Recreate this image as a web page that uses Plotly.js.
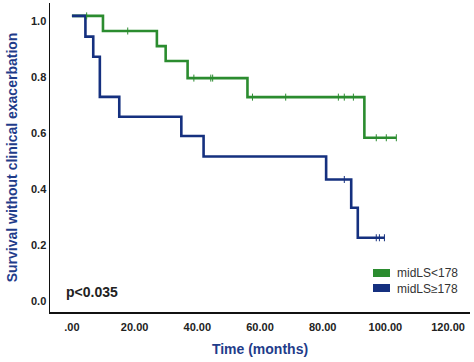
<!DOCTYPE html>
<html>
<head>
<meta charset="utf-8">
<script src="https://cdn.plot.ly/plotly-3.0.1.min.js"></script>
<style>
  html, body { margin: 0; padding: 0; background: #fff; }
  #chart { width: 474px; height: 362px; }
</style>
</head>
<body>
<div id="chart"></div>
<script>
// Kaplan-Meier estimates: time of each step (months) and survival after it
const groupNames = ['midLS<178', 'midLS\u2265178'];

const lowTimes = [0, 9.9, 27.1, 29.9, 36.9, 56.0, 93.3, 103.5];
const lowSurv  = [1.0, 0.946, 0.892, 0.839, 0.778, 0.710, 0.565, 0.565];
const lowCensorTimes = [4.7, 17.8, 38.9, 44.3, 44.9, 57.6, 68.2, 85.0, 86.9, 89.8, 97.1, 100.3, 103.5];
const lowCensorSurv  = [1.0, 0.946, 0.778, 0.778, 0.778, 0.710, 0.710, 0.710, 0.710, 0.710, 0.565, 0.565, 0.565];

const highTimes = [0, 4.3, 6.8, 8.9, 15.1, 34.9, 42.0, 81.1, 89.1, 91.2, 99.7];
const highSurv  = [1.0, 0.926, 0.854, 0.711, 0.640, 0.571, 0.498, 0.416, 0.315, 0.208, 0.208];
const highCensorTimes = [86.9, 97.1, 98.1, 99.7];
const highCensorSurv  = [0.416, 0.208, 0.208, 0.208];

const xTickVals = [0, 20, 40, 60, 80, 100, 120];
const xTickText = ['.00', '20.00', '40.00', '60.00', '80.00', '100.00', '120.00'];
const yTickVals = [0, 0.2, 0.4, 0.6, 0.8, 1.0];

const colors = ['#2b8c2f', '#15307f'];
const titleBlue = '#1f3c8a';

function curve(t, s, color) {
  return { x: t, y: s, mode: 'lines', line: { shape: 'hv', color: color, width: 2.6 },
           showlegend: false, hoverinfo: 'skip' };
}
function censors(t, s, color) {
  return { x: t, y: s, mode: 'markers', showlegend: false, hoverinfo: 'skip',
           marker: { symbol: 'line-ns-open', size: 5, color: color, line: { color: color, width: 1 } } };
}

const data = [
  curve(lowTimes, lowSurv, colors[0]),
  curve(highTimes, highSurv, colors[1]),
  censors(lowCensorTimes, lowCensorSurv, colors[0]),
  censors(highCensorTimes, highCensorSurv, colors[1])
];

const tickFont = { family: 'Liberation Sans, Arial, sans-serif', size: 11, color: '#222' };

// legend swatches drawn as filled rectangles with their labels
const shapes = [], annotations = [];
groupNames.forEach((name, i) => {
  shapes.push({ type: 'rect', xref: 'paper', yref: 'paper',
    x0: (373 - 50) / 420, x1: (390 - 50) / 420,
    y0: (312 - 277 - i * 15) / 309, y1: (312 - 269 - i * 15) / 309,
    fillcolor: colors[i], line: { width: 0 } });
  annotations.push({ xref: 'paper', yref: 'paper', x: (395 - 50) / 420, y: (312 - 273 - i * 15.5) / 309,
    xanchor: 'left', yanchor: 'middle', showarrow: false, text: name,
    font: { family: 'Liberation Sans, Arial, sans-serif', size: 12, color: '#333' } });
});
annotations.push({ xref: 'paper', yref: 'paper', x: (64 - 50) / 420, y: (312 - 292) / 309,
  xanchor: 'left', yanchor: 'middle', showarrow: false, text: '<b>p&lt;0.035</b>',
  font: { family: 'Liberation Sans, Arial, sans-serif', size: 14, color: '#222' } });

const layout = {
  width: 474, height: 362,
  margin: { l: 50, r: 4, t: 3, b: 50 },
  paper_bgcolor: '#fff', plot_bgcolor: '#fff',
  showlegend: false,
  xaxis: {
    range: [-7, 127], tickvals: xTickVals, ticktext: xTickText,
    showgrid: false, zeroline: false, showline: true, linecolor: '#111', linewidth: 1.5,
    ticks: '', ticklabelstandoff: 4, tickfont: Object.assign({ weight: 'bold' }, tickFont),
    title: { text: '<b>Time (months)</b>', standoff: 12,
             font: { family: 'Liberation Sans, Arial, sans-serif', size: 14, color: titleBlue } }
  },
  yaxis: {
    range: [-0.057, 1.046], tickvals: yTickVals, tickformat: '.1f',
    showgrid: false, zeroline: false, showline: true, linecolor: '#111', linewidth: 1.5,
    ticks: '', ticklabelshift: 5, tickfont: Object.assign({ weight: 'bold' }, tickFont),
    title: { text: '<b>Survival without clinical exacerbation</b>', standoff: 10,
             font: { family: 'Liberation Sans, Arial, sans-serif', size: 14, color: titleBlue } }
  },
  shapes: shapes,
  annotations: annotations
};

Plotly.newPlot('chart', data, layout, { displayModeBar: false, staticPlot: true });
</script>
</body>
</html>
